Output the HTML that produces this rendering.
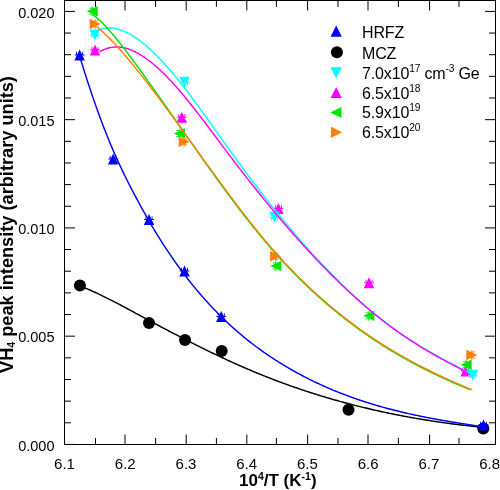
<!DOCTYPE html>
<html><head><meta charset="utf-8"><style>
html,body{margin:0;padding:0;background:#fff;}
body{width:500px;height:490px;position:relative;overflow:hidden;font-family:"Liberation Sans",Arial,sans-serif;color:#000;}
.t{position:absolute;font-size:15px;line-height:1;white-space:nowrap;}
.yl{text-align:right;width:40px;left:14.5px;font-size:14.5px!important;}
.xl{text-align:center;width:40px;}
.lg{position:absolute;left:362px;letter-spacing:-0.15px;font-size:16px;line-height:1;white-space:nowrap;}
.lg sup{font-size:10.2px;vertical-align:7.2px;line-height:0}
.ax{position:absolute;font-weight:bold;white-space:nowrap;line-height:1;}
.ax sup{font-size:10.5px;vertical-align:6.3px;line-height:0}
.ax sub{font-size:10.5px;vertical-align:-2px;line-height:0}
</style></head><body>
<svg width="500" height="490" viewBox="0 0 500 490" style="position:absolute;left:0;top:0"><path d="M125.00,445V434.5M125.00,0V10.5M186.20,445V434.5M186.20,0V10.5M246.80,445V434.5M246.80,0V10.5M307.60,445V434.5M307.60,0V10.5M368.00,445V434.5M368.00,0V10.5M429.60,445V434.5M429.60,0V10.5M95.50,445V438M95.50,0V6.8M155.60,445V438M155.60,0V6.8M216.40,445V438M216.40,0V6.8M276.40,445V438M276.40,0V6.8M338.00,445V438M338.00,0V6.8M398.40,445V438M398.40,0V6.8M459.00,445V438M459.00,0V6.8M64,444.43H75M496,444.43H485M64,422.78H71M496,422.78H489M64,401.13H71M496,401.13H489M64,379.48H71M496,379.48H489M64,357.82H71M496,357.82H489M64,336.17H75M496,336.17H485M64,314.52H71M496,314.52H489M64,292.87H71M496,292.87H489M64,271.22H71M496,271.22H489M64,249.57H71M496,249.57H489M64,227.91H75M496,227.91H485M64,206.26H71M496,206.26H489M64,184.61H71M496,184.61H489M64,162.96H71M496,162.96H489M64,141.31H71M496,141.31H489M64,119.66H75M496,119.66H485M64,98.00H71M496,98.00H489M64,76.35H71M496,76.35H489M64,54.70H71M496,54.70H489M64,33.05H71M496,33.05H489M64,11.40H75M496,11.40H485" stroke="#000" stroke-width="1" fill="none"/><rect x="64.5" y="0.5" width="431" height="444" fill="none" stroke="#000" stroke-width="1"/><circle cx="79.9" cy="285.4" r="6" fill="#000000"/><circle cx="149" cy="323" r="6" fill="#000000"/><circle cx="185" cy="340" r="6" fill="#000000"/><circle cx="221.7" cy="351" r="6" fill="#000000"/><circle cx="348.5" cy="409.7" r="6" fill="#000000"/><circle cx="483.3" cy="428.6" r="6" fill="#000000"/><polygon points="74.35,60.50 84.85,60.50 79.60,49.50" fill="#0000ff"/><rect x="74.70" y="54.50" width="9.8" height="1" fill="#0000ff"/><rect x="76.10" y="51.80" width="0.9" height="3.2" fill="#0000ff"/><rect x="82.20" y="51.80" width="0.9" height="3.2" fill="#0000ff"/><polygon points="107.95,164.50 118.45,164.50 113.20,153.50" fill="#0000ff"/><rect x="108.30" y="158.50" width="9.8" height="1" fill="#0000ff"/><rect x="109.70" y="155.80" width="0.9" height="3.2" fill="#0000ff"/><rect x="115.80" y="155.80" width="0.9" height="3.2" fill="#0000ff"/><polygon points="143.75,225.00 154.25,225.00 149.00,214.00" fill="#0000ff"/><rect x="144.10" y="219.00" width="9.8" height="1" fill="#0000ff"/><rect x="145.50" y="216.30" width="0.9" height="3.2" fill="#0000ff"/><rect x="151.60" y="216.30" width="0.9" height="3.2" fill="#0000ff"/><polygon points="179.25,276.50 189.75,276.50 184.50,265.50" fill="#0000ff"/><rect x="179.60" y="270.50" width="9.8" height="1" fill="#0000ff"/><rect x="181.00" y="267.80" width="0.9" height="3.2" fill="#0000ff"/><rect x="187.10" y="267.80" width="0.9" height="3.2" fill="#0000ff"/><polygon points="216.05,322.00 226.55,322.00 221.30,311.00" fill="#0000ff"/><rect x="216.40" y="316.00" width="9.8" height="1" fill="#0000ff"/><rect x="217.80" y="313.30" width="0.9" height="3.2" fill="#0000ff"/><rect x="223.90" y="313.30" width="0.9" height="3.2" fill="#0000ff"/><polygon points="478.25,430.50 488.75,430.50 483.50,419.50" fill="#0000ff"/><rect x="478.60" y="424.50" width="9.8" height="1" fill="#0000ff"/><rect x="480.00" y="421.80" width="0.9" height="3.2" fill="#0000ff"/><rect x="486.10" y="421.80" width="0.9" height="3.2" fill="#0000ff"/><polygon points="89.75,55.50 100.25,55.50 95.00,44.50" fill="#ff00ff"/><rect x="90.10" y="49.50" width="9.8" height="1" fill="#ff00ff"/><rect x="91.50" y="46.80" width="0.9" height="3.2" fill="#ff00ff"/><rect x="97.60" y="46.80" width="0.9" height="3.2" fill="#ff00ff"/><polygon points="176.55,122.70 187.05,122.70 181.80,111.70" fill="#ff00ff"/><rect x="176.90" y="116.70" width="9.8" height="1" fill="#ff00ff"/><rect x="178.30" y="114.00" width="0.9" height="3.2" fill="#ff00ff"/><rect x="184.40" y="114.00" width="0.9" height="3.2" fill="#ff00ff"/><polygon points="273.15,213.90 283.65,213.90 278.40,202.90" fill="#ff00ff"/><rect x="273.50" y="207.90" width="9.8" height="1" fill="#ff00ff"/><rect x="274.90" y="205.20" width="0.9" height="3.2" fill="#ff00ff"/><rect x="281.00" y="205.20" width="0.9" height="3.2" fill="#ff00ff"/><polygon points="363.75,288.30 374.25,288.30 369.00,277.30" fill="#ff00ff"/><rect x="364.10" y="282.30" width="9.8" height="1" fill="#ff00ff"/><rect x="365.50" y="279.60" width="0.9" height="3.2" fill="#ff00ff"/><rect x="371.60" y="279.60" width="0.9" height="3.2" fill="#ff00ff"/><polygon points="460.35,376.50 470.85,376.50 465.60,365.50" fill="#ff00ff"/><rect x="460.70" y="370.50" width="9.8" height="1" fill="#ff00ff"/><rect x="462.10" y="367.80" width="0.9" height="3.2" fill="#ff00ff"/><rect x="468.20" y="367.80" width="0.9" height="3.2" fill="#ff00ff"/><polygon points="89.55,29.40 100.05,29.40 94.80,40.40" fill="#00ffff"/><rect x="89.90" y="34.40" width="9.8" height="1" fill="#00ffff"/><rect x="91.30" y="34.90" width="0.9" height="3.2" fill="#00ffff"/><rect x="97.40" y="34.90" width="0.9" height="3.2" fill="#00ffff"/><polygon points="179.35,76.80 189.85,76.80 184.60,87.80" fill="#00ffff"/><rect x="179.70" y="81.80" width="9.8" height="1" fill="#00ffff"/><rect x="181.10" y="82.30" width="0.9" height="3.2" fill="#00ffff"/><rect x="187.20" y="82.30" width="0.9" height="3.2" fill="#00ffff"/><polygon points="269.15,211.80 279.65,211.80 274.40,222.80" fill="#00ffff"/><rect x="269.50" y="216.80" width="9.8" height="1" fill="#00ffff"/><rect x="270.90" y="217.30" width="0.9" height="3.2" fill="#00ffff"/><rect x="277.00" y="217.30" width="0.9" height="3.2" fill="#00ffff"/><polygon points="467.55,369.70 478.05,369.70 472.80,380.70" fill="#00ffff"/><rect x="467.90" y="374.70" width="9.8" height="1" fill="#00ffff"/><rect x="469.30" y="375.20" width="0.9" height="3.2" fill="#00ffff"/><rect x="475.40" y="375.20" width="0.9" height="3.2" fill="#00ffff"/><polygon points="97.70,5.95 97.70,16.45 86.70,11.20" fill="#00e600"/><rect x="91.70" y="6.30" width="1" height="9.8" fill="#00e600"/><rect x="89.00" y="7.70" width="3.2" height="0.9" fill="#00e600"/><rect x="89.00" y="13.80" width="3.2" height="0.9" fill="#00e600"/><polygon points="184.90,128.25 184.90,138.75 173.90,133.50" fill="#00e600"/><rect x="178.90" y="128.60" width="1" height="9.8" fill="#00e600"/><rect x="176.20" y="130.00" width="3.2" height="0.9" fill="#00e600"/><rect x="176.20" y="136.10" width="3.2" height="0.9" fill="#00e600"/><polygon points="281.30,260.75 281.30,271.25 270.30,266.00" fill="#00e600"/><rect x="275.30" y="261.10" width="1" height="9.8" fill="#00e600"/><rect x="272.60" y="262.50" width="3.2" height="0.9" fill="#00e600"/><rect x="272.60" y="268.60" width="3.2" height="0.9" fill="#00e600"/><polygon points="374.40,310.55 374.40,321.05 363.40,315.80" fill="#00e600"/><rect x="368.40" y="310.90" width="1" height="9.8" fill="#00e600"/><rect x="365.70" y="312.30" width="3.2" height="0.9" fill="#00e600"/><rect x="365.70" y="318.40" width="3.2" height="0.9" fill="#00e600"/><polygon points="471.60,359.45 471.60,369.95 460.60,364.70" fill="#00e600"/><rect x="465.60" y="359.80" width="1" height="9.8" fill="#00e600"/><rect x="462.90" y="361.20" width="3.2" height="0.9" fill="#00e600"/><rect x="462.90" y="367.30" width="3.2" height="0.9" fill="#00e600"/><polygon points="89.70,18.85 89.70,29.35 100.70,24.10" fill="#ff8000"/><rect x="94.70" y="19.20" width="1" height="9.8" fill="#ff8000"/><rect x="95.20" y="20.60" width="3.2" height="0.9" fill="#ff8000"/><rect x="95.20" y="26.70" width="3.2" height="0.9" fill="#ff8000"/><polygon points="178.60,136.45 178.60,146.95 189.60,141.70" fill="#ff8000"/><rect x="183.60" y="136.80" width="1" height="9.8" fill="#ff8000"/><rect x="184.10" y="138.20" width="3.2" height="0.9" fill="#ff8000"/><rect x="184.10" y="144.30" width="3.2" height="0.9" fill="#ff8000"/><polygon points="270.10,250.95 270.10,261.45 281.10,256.20" fill="#ff8000"/><rect x="275.10" y="251.30" width="1" height="9.8" fill="#ff8000"/><rect x="275.60" y="252.70" width="3.2" height="0.9" fill="#ff8000"/><rect x="275.60" y="258.80" width="3.2" height="0.9" fill="#ff8000"/><polygon points="466.30,349.75 466.30,360.25 477.30,355.00" fill="#ff8000"/><rect x="471.30" y="350.10" width="1" height="9.8" fill="#ff8000"/><rect x="471.80" y="351.50" width="3.2" height="0.9" fill="#ff8000"/><rect x="471.80" y="357.60" width="3.2" height="0.9" fill="#ff8000"/><path d="M79.90,285.86 L80.90,286.25 L81.90,286.66 L82.90,287.06 L83.90,287.47 L84.90,287.89 L85.90,288.31 L86.90,288.73 L87.90,289.16 L88.90,289.59 L89.90,290.03 L90.90,290.47 L91.90,290.92 L92.90,291.37 L93.90,291.82 L94.90,292.28 L95.90,292.74 L96.90,293.21 L97.90,293.68 L98.90,294.15 L99.90,294.62 L100.90,295.10 L101.90,295.59 L102.90,296.07 L103.90,296.56 L104.90,297.05 L105.90,297.55 L106.90,298.05 L107.90,298.55 L108.90,299.05 L109.90,299.55 L110.90,300.06 L111.90,300.57 L112.90,301.09 L113.90,301.60 L114.90,302.12 L115.90,302.64 L116.90,303.16 L117.90,303.68 L118.90,304.21 L119.90,304.73 L120.90,305.26 L121.90,305.79 L122.90,306.32 L123.90,306.85 L124.90,307.39 L125.90,307.92 L126.90,308.46 L127.90,309.00 L128.90,309.53 L129.90,310.07 L130.90,310.61 L131.90,311.15 L132.90,311.69 L133.90,312.23 L134.90,312.77 L135.90,313.32 L136.90,313.86 L137.90,314.40 L138.90,314.94 L139.90,315.48 L140.90,316.03 L141.90,316.57 L142.90,317.11 L143.90,317.65 L144.90,318.19 L145.90,318.73 L146.90,319.27 L147.90,319.81 L148.90,320.35 L149.90,320.89 L150.90,321.42 L151.90,321.96 L152.90,322.50 L153.90,323.03 L154.90,323.57 L155.90,324.11 L156.90,324.64 L157.90,325.17 L158.90,325.71 L159.90,326.24 L160.90,326.77 L161.90,327.30 L162.90,327.83 L163.90,328.36 L164.90,328.89 L165.90,329.42 L166.90,329.95 L167.90,330.48 L168.90,331.00 L169.90,331.53 L170.90,332.05 L171.90,332.58 L172.90,333.10 L173.90,333.62 L174.90,334.15 L175.90,334.67 L176.90,335.19 L177.90,335.71 L178.90,336.23 L179.90,336.74 L180.90,337.26 L181.90,337.78 L182.90,338.29 L183.90,338.80 L184.90,339.32 L185.90,339.83 L186.90,340.34 L187.90,340.85 L188.90,341.36 L189.90,341.87 L190.90,342.38 L191.90,342.88 L192.90,343.39 L193.90,343.89 L194.90,344.39 L195.90,344.90 L196.90,345.40 L197.90,345.90 L198.90,346.39 L199.90,346.89 L200.90,347.39 L201.90,347.88 L202.90,348.38 L203.90,348.87 L204.90,349.36 L205.90,349.85 L206.90,350.34 L207.90,350.83 L208.90,351.32 L209.90,351.80 L210.90,352.29 L211.90,352.77 L212.90,353.25 L213.90,353.73 L214.90,354.21 L215.90,354.69 L216.90,355.16 L217.90,355.64 L218.90,356.11 L219.90,356.58 L220.90,357.06 L221.90,357.52 L222.90,357.99 L223.90,358.46 L224.90,358.92 L225.90,359.39 L226.90,359.85 L227.90,360.31 L228.90,360.77 L229.90,361.23 L230.90,361.68 L231.90,362.14 L232.90,362.59 L233.90,363.04 L234.90,363.49 L235.90,363.94 L236.90,364.39 L237.90,364.83 L238.90,365.28 L239.90,365.72 L240.90,366.16 L241.90,366.60 L242.90,367.03 L243.90,367.47 L244.90,367.90 L245.90,368.33 L246.90,368.76 L247.90,369.19 L248.90,369.62 L249.90,370.04 L250.90,370.47 L251.90,370.89 L252.90,371.31 L253.90,371.72 L254.90,372.14 L255.90,372.55 L256.90,372.97 L257.90,373.38 L258.90,373.79 L259.90,374.19 L260.90,374.60 L261.90,375.00 L262.90,375.40 L263.90,375.80 L264.90,376.20 L265.90,376.60 L266.90,376.99 L267.90,377.39 L268.90,377.78 L269.90,378.17 L270.90,378.55 L271.90,378.94 L272.90,379.33 L273.90,379.71 L274.90,380.09 L275.90,380.47 L276.90,380.85 L277.90,381.22 L278.90,381.60 L279.90,381.97 L280.90,382.34 L281.90,382.71 L282.90,383.08 L283.90,383.44 L284.90,383.81 L285.90,384.17 L286.90,384.53 L287.90,384.89 L288.90,385.25 L289.90,385.60 L290.90,385.96 L291.90,386.31 L292.90,386.66 L293.90,387.01 L294.90,387.36 L295.90,387.70 L296.90,388.05 L297.90,388.39 L298.90,388.73 L299.90,389.07 L300.90,389.41 L301.90,389.75 L302.90,390.08 L303.90,390.41 L304.90,390.75 L305.90,391.08 L306.90,391.40 L307.90,391.73 L308.90,392.06 L309.90,392.38 L310.90,392.70 L311.90,393.02 L312.90,393.34 L313.90,393.66 L314.90,393.97 L315.90,394.29 L316.90,394.60 L317.90,394.91 L318.90,395.22 L319.90,395.53 L320.90,395.83 L321.90,396.14 L322.90,396.44 L323.90,396.74 L324.90,397.04 L325.90,397.34 L326.90,397.64 L327.90,397.94 L328.90,398.23 L329.90,398.52 L330.90,398.81 L331.90,399.10 L332.90,399.39 L333.90,399.68 L334.90,399.96 L335.90,400.24 L336.90,400.53 L337.90,400.81 L338.90,401.09 L339.90,401.36 L340.90,401.64 L341.90,401.91 L342.90,402.19 L343.90,402.46 L344.90,402.73 L345.90,403.00 L346.90,403.26 L347.90,403.53 L348.90,403.79 L349.90,404.06 L350.90,404.32 L351.90,404.58 L352.90,404.83 L353.90,405.09 L354.90,405.35 L355.90,405.60 L356.90,405.85 L357.90,406.11 L358.90,406.35 L359.90,406.60 L360.90,406.85 L361.90,407.10 L362.90,407.34 L363.90,407.58 L364.90,407.82 L365.90,408.06 L366.90,408.30 L367.90,408.54 L368.90,408.77 L369.90,409.01 L370.90,409.24 L371.90,409.47 L372.90,409.70 L373.90,409.93 L374.90,410.16 L375.90,410.38 L376.90,410.61 L377.90,410.83 L378.90,411.05 L379.90,411.27 L380.90,411.49 L381.90,411.71 L382.90,411.93 L383.90,412.14 L384.90,412.36 L385.90,412.57 L386.90,412.78 L387.90,412.99 L388.90,413.20 L389.90,413.41 L390.90,413.61 L391.90,413.82 L392.90,414.02 L393.90,414.22 L394.90,414.42 L395.90,414.62 L396.90,414.82 L397.90,415.02 L398.90,415.21 L399.90,415.40 L400.90,415.60 L401.90,415.79 L402.90,415.98 L403.90,416.17 L404.90,416.36 L405.90,416.54 L406.90,416.73 L407.90,416.91 L408.90,417.09 L409.90,417.27 L410.90,417.45 L411.90,417.63 L412.90,417.81 L413.90,417.99 L414.90,418.16 L415.90,418.34 L416.90,418.51 L417.90,418.68 L418.90,418.85 L419.90,419.02 L420.90,419.19 L421.90,419.35 L422.90,419.52 L423.90,419.68 L424.90,419.84 L425.90,420.01 L426.90,420.17 L427.90,420.33 L428.90,420.48 L429.90,420.64 L430.90,420.80 L431.90,420.95 L432.90,421.10 L433.90,421.26 L434.90,421.41 L435.90,421.56 L436.90,421.71 L437.90,421.85 L438.90,422.00 L439.90,422.14 L440.90,422.29 L441.90,422.43 L442.90,422.57 L443.90,422.71 L444.90,422.85 L445.90,422.99 L446.90,423.13 L447.90,423.26 L448.90,423.40 L449.90,423.53 L450.90,423.66 L451.90,423.80 L452.90,423.93 L453.90,424.05 L454.90,424.18 L455.90,424.31 L456.90,424.44 L457.90,424.56 L458.90,424.68 L459.90,424.81 L460.90,424.93 L461.90,425.05 L462.90,425.17 L463.90,425.29 L464.90,425.40 L465.90,425.52 L466.90,425.63 L467.90,425.75 L468.90,425.86 L469.90,425.97 L470.90,426.08 L471.90,426.19 L472.90,426.30 L473.90,426.41 L474.90,426.52 L475.90,426.62 L476.90,426.73 L477.90,426.83 L478.90,426.93 L479.90,427.03 L480.90,427.13 L481.90,427.23 L482.90,427.33 L483.30,427.37" stroke="#000000" stroke-width="1.45" fill="none"/><path d="M79.60,55.96 L80.60,59.25 L81.60,62.51 L82.60,65.74 L83.60,68.94 L84.60,72.12 L85.60,75.26 L86.60,78.38 L87.60,81.47 L88.60,84.53 L89.60,87.56 L90.60,90.56 L91.60,93.53 L92.60,96.47 L93.60,99.39 L94.60,102.28 L95.60,105.13 L96.60,107.96 L97.60,110.76 L98.60,113.53 L99.60,116.27 L100.60,118.98 L101.60,121.65 L102.60,124.30 L103.60,126.92 L104.60,129.51 L105.60,132.07 L106.60,134.60 L107.60,137.10 L108.60,139.56 L109.60,142.00 L110.60,144.41 L111.60,146.78 L112.60,149.12 L113.60,151.44 L114.60,153.73 L115.60,155.99 L116.60,158.22 L117.60,160.42 L118.60,162.61 L119.60,164.76 L120.60,166.90 L121.60,169.01 L122.60,171.10 L123.60,173.17 L124.60,175.22 L125.60,177.25 L126.60,179.26 L127.60,181.25 L128.60,183.23 L129.60,185.19 L130.60,187.14 L131.60,189.07 L132.60,190.99 L133.60,192.89 L134.60,194.79 L135.60,196.67 L136.60,198.55 L137.60,200.41 L138.60,202.27 L139.60,204.12 L140.60,205.95 L141.60,207.78 L142.60,209.60 L143.60,211.40 L144.60,213.19 L145.60,214.97 L146.60,216.74 L147.60,218.50 L148.60,220.24 L149.60,221.96 L150.60,223.68 L151.60,225.38 L152.60,227.07 L153.60,228.75 L154.60,230.41 L155.60,232.06 L156.60,233.70 L157.60,235.33 L158.60,236.94 L159.60,238.54 L160.60,240.13 L161.60,241.71 L162.60,243.28 L163.60,244.83 L164.60,246.37 L165.60,247.90 L166.60,249.42 L167.60,250.93 L168.60,252.42 L169.60,253.90 L170.60,255.37 L171.60,256.83 L172.60,258.28 L173.60,259.72 L174.60,261.15 L175.60,262.56 L176.60,263.97 L177.60,265.36 L178.60,266.74 L179.60,268.12 L180.60,269.48 L181.60,270.83 L182.60,272.17 L183.60,273.50 L184.60,274.82 L185.60,276.13 L186.60,277.42 L187.60,278.71 L188.60,279.99 L189.60,281.26 L190.60,282.52 L191.60,283.77 L192.60,285.01 L193.60,286.23 L194.60,287.45 L195.60,288.66 L196.60,289.86 L197.60,291.05 L198.60,292.24 L199.60,293.41 L200.60,294.57 L201.60,295.73 L202.60,296.87 L203.60,298.01 L204.60,299.13 L205.60,300.25 L206.60,301.36 L207.60,302.46 L208.60,303.55 L209.60,304.64 L210.60,305.71 L211.60,306.78 L212.60,307.84 L213.60,308.89 L214.60,309.93 L215.60,310.96 L216.60,311.99 L217.60,313.01 L218.60,314.02 L219.60,315.02 L220.60,316.01 L221.60,317.00 L222.60,317.98 L223.60,318.95 L224.60,319.91 L225.60,320.86 L226.60,321.81 L227.60,322.75 L228.60,323.69 L229.60,324.61 L230.60,325.53 L231.60,326.44 L232.60,327.34 L233.60,328.24 L234.60,329.13 L235.60,330.01 L236.60,330.88 L237.60,331.75 L238.60,332.61 L239.60,333.47 L240.60,334.31 L241.60,335.15 L242.60,335.99 L243.60,336.82 L244.60,337.64 L245.60,338.45 L246.60,339.26 L247.60,340.06 L248.60,340.85 L249.60,341.64 L250.60,342.42 L251.60,343.20 L252.60,343.97 L253.60,344.73 L254.60,345.49 L255.60,346.24 L256.60,346.99 L257.60,347.73 L258.60,348.46 L259.60,349.19 L260.60,349.91 L261.60,350.63 L262.60,351.34 L263.60,352.04 L264.60,352.74 L265.60,353.44 L266.60,354.13 L267.60,354.81 L268.60,355.49 L269.60,356.16 L270.60,356.83 L271.60,357.49 L272.60,358.15 L273.60,358.80 L274.60,359.45 L275.60,360.09 L276.60,360.73 L277.60,361.36 L278.60,361.99 L279.60,362.61 L280.60,363.23 L281.60,363.85 L282.60,364.46 L283.60,365.06 L284.60,365.66 L285.60,366.26 L286.60,366.85 L287.60,367.44 L288.60,368.02 L289.60,368.60 L290.60,369.18 L291.60,369.75 L292.60,370.31 L293.60,370.88 L294.60,371.44 L295.60,371.99 L296.60,372.54 L297.60,373.09 L298.60,373.63 L299.60,374.17 L300.60,374.71 L301.60,375.24 L302.60,375.76 L303.60,376.29 L304.60,376.81 L305.60,377.32 L306.60,377.84 L307.60,378.34 L308.60,378.85 L309.60,379.35 L310.60,379.85 L311.60,380.34 L312.60,380.83 L313.60,381.31 L314.60,381.80 L315.60,382.28 L316.60,382.75 L317.60,383.22 L318.60,383.69 L319.60,384.16 L320.60,384.62 L321.60,385.07 L322.60,385.53 L323.60,385.98 L324.60,386.42 L325.60,386.87 L326.60,387.31 L327.60,387.75 L328.60,388.18 L329.60,388.61 L330.60,389.04 L331.60,389.46 L332.60,389.88 L333.60,390.30 L334.60,390.71 L335.60,391.12 L336.60,391.53 L337.60,391.93 L338.60,392.33 L339.60,392.73 L340.60,393.12 L341.60,393.51 L342.60,393.90 L343.60,394.29 L344.60,394.67 L345.60,395.05 L346.60,395.43 L347.60,395.80 L348.60,396.17 L349.60,396.54 L350.60,396.90 L351.60,397.26 L352.60,397.62 L353.60,397.97 L354.60,398.33 L355.60,398.68 L356.60,399.02 L357.60,399.37 L358.60,399.71 L359.60,400.05 L360.60,400.38 L361.60,400.72 L362.60,401.05 L363.60,401.37 L364.60,401.70 L365.60,402.02 L366.60,402.34 L367.60,402.66 L368.60,402.97 L369.60,403.28 L370.60,403.59 L371.60,403.90 L372.60,404.20 L373.60,404.51 L374.60,404.80 L375.60,405.10 L376.60,405.40 L377.60,405.69 L378.60,405.98 L379.60,406.26 L380.60,406.55 L381.60,406.83 L382.60,407.11 L383.60,407.39 L384.60,407.66 L385.60,407.94 L386.60,408.21 L387.60,408.48 L388.60,408.74 L389.60,409.01 L390.60,409.27 L391.60,409.53 L392.60,409.79 L393.60,410.04 L394.60,410.30 L395.60,410.55 L396.60,410.80 L397.60,411.05 L398.60,411.29 L399.60,411.53 L400.60,411.78 L401.60,412.02 L402.60,412.25 L403.60,412.49 L404.60,412.72 L405.60,412.95 L406.60,413.18 L407.60,413.41 L408.60,413.64 L409.60,413.86 L410.60,414.09 L411.60,414.31 L412.60,414.53 L413.60,414.74 L414.60,414.96 L415.60,415.17 L416.60,415.39 L417.60,415.60 L418.60,415.81 L419.60,416.01 L420.60,416.22 L421.60,416.42 L422.60,416.63 L423.60,416.83 L424.60,417.03 L425.60,417.23 L426.60,417.42 L427.60,417.62 L428.60,417.81 L429.60,418.00 L430.60,418.19 L431.60,418.38 L432.60,418.57 L433.60,418.76 L434.60,418.95 L435.60,419.13 L436.60,419.31 L437.60,419.49 L438.60,419.67 L439.60,419.85 L440.60,420.03 L441.60,420.21 L442.60,420.39 L443.60,420.56 L444.60,420.73 L445.60,420.91 L446.60,421.08 L447.60,421.25 L448.60,421.42 L449.60,421.58 L450.60,421.75 L451.60,421.92 L452.60,422.08 L453.60,422.25 L454.60,422.41 L455.60,422.57 L456.60,422.73 L457.60,422.89 L458.60,423.05 L459.60,423.21 L460.60,423.37 L461.60,423.53 L462.60,423.68 L463.60,423.84 L464.60,424.00 L465.60,424.15 L466.60,424.30 L467.60,424.46 L468.60,424.61 L469.60,424.76 L470.60,424.91 L471.60,425.06 L472.60,425.21 L473.60,425.36 L474.60,425.51 L475.60,425.66 L476.60,425.80 L477.60,425.95 L478.60,426.10 L479.60,426.24 L480.60,426.39 L481.60,426.54 L482.60,426.68 L483.50,426.81" stroke="#0000ff" stroke-width="1.45" fill="none"/><path d="M98.50,30.17 L99.50,29.77 L100.50,29.40 L101.50,29.08 L102.50,28.80 L103.50,28.56 L104.50,28.36 L105.50,28.20 L106.50,28.08 L107.50,28.00 L108.50,27.95 L109.50,27.94 L110.50,27.96 L111.50,28.02 L112.50,28.11 L113.50,28.23 L114.50,28.38 L115.50,28.57 L116.50,28.79 L117.50,29.04 L118.50,29.31 L119.50,29.62 L120.50,29.95 L121.50,30.31 L122.50,30.69 L123.50,31.10 L124.50,31.54 L125.50,31.99 L126.50,32.47 L127.50,32.98 L128.50,33.50 L129.50,34.05 L130.50,34.61 L131.50,35.19 L132.50,35.80 L133.50,36.42 L134.50,37.06 L135.50,37.72 L136.50,38.40 L137.50,39.09 L138.50,39.80 L139.50,40.53 L140.50,41.28 L141.50,42.05 L142.50,42.83 L143.50,43.63 L144.50,44.44 L145.50,45.27 L146.50,46.12 L147.50,46.98 L148.50,47.86 L149.50,48.76 L150.50,49.66 L151.50,50.59 L152.50,51.53 L153.50,52.48 L154.50,53.45 L155.50,54.43 L156.50,55.42 L157.50,56.43 L158.50,57.45 L159.50,58.48 L160.50,59.53 L161.50,60.59 L162.50,61.66 L163.50,62.75 L164.50,63.84 L165.50,64.95 L166.50,66.07 L167.50,67.20 L168.50,68.34 L169.50,69.50 L170.50,70.66 L171.50,71.83 L172.50,73.02 L173.50,74.21 L174.50,75.42 L175.50,76.63 L176.50,77.85 L177.50,79.08 L178.50,80.32 L179.50,81.57 L180.50,82.83 L181.50,84.09 L182.50,85.37 L183.50,86.65 L184.50,87.94 L185.50,89.23 L186.50,90.53 L187.50,91.84 L188.50,93.16 L189.50,94.48 L190.50,95.81 L191.50,97.14 L192.50,98.48 L193.50,99.83 L194.50,101.18 L195.50,102.54 L196.50,103.90 L197.50,105.26 L198.50,106.63 L199.50,108.00 L200.50,109.38 L201.50,110.76 L202.50,112.15 L203.50,113.53 L204.50,114.92 L205.50,116.32 L206.50,117.71 L207.50,119.11 L208.50,120.51 L209.50,121.91 L210.50,123.32 L211.50,124.72 L212.50,126.13 L213.50,127.54 L214.50,128.95 L215.50,130.36 L216.50,131.76 L217.50,133.17 L218.50,134.58 L219.50,135.99 L220.50,137.40 L221.50,138.81 L222.50,140.21 L223.50,141.62 L224.50,143.02 L225.50,144.42 L226.50,145.82 L227.50,147.22 L228.50,148.62 L229.50,150.01 L230.50,151.40 L231.50,152.79 L232.50,154.17 L233.50,155.55 L234.50,156.93 L235.50,158.30 L236.50,159.67 L237.50,161.04 L238.50,162.41 L239.50,163.77 L240.50,165.13 L241.50,166.49 L242.50,167.84 L243.50,169.19 L244.50,170.54 L245.50,171.88 L246.50,173.22 L247.50,174.56 L248.50,175.89 L249.50,177.22 L250.50,178.55 L251.50,179.87 L252.50,181.19 L253.50,182.51 L254.50,183.82 L255.50,185.13 L256.50,186.44 L257.50,187.75 L258.50,189.05 L259.50,190.34 L260.50,191.64 L261.50,192.93 L262.50,194.22 L263.50,195.50 L264.50,196.78 L265.50,198.06 L266.50,199.33 L267.50,200.60 L268.50,201.87 L269.50,203.13 L270.50,204.39 L271.50,205.65 L272.50,206.90 L273.50,208.15 L274.50,209.39 L275.50,210.63 L276.50,211.87 L277.50,213.11 L278.50,214.34 L279.50,215.56 L280.50,216.79 L281.50,218.01 L282.50,219.22 L283.50,220.44 L284.50,221.65 L285.50,222.85 L286.50,224.05 L287.50,225.25 L288.50,226.44 L289.50,227.63 L290.50,228.82 L291.50,230.00 L292.50,231.18 L293.50,232.36 L294.50,233.53 L295.50,234.70 L296.50,235.86 L297.50,237.02 L298.50,238.18 L299.50,239.33 L300.50,240.48 L301.50,241.62 L302.50,242.76 L303.50,243.90 L304.50,245.03 L305.50,246.16 L306.50,247.28 L307.50,248.40 L308.50,249.52 L309.50,250.63 L310.50,251.74 L311.50,252.84 L312.50,253.94 L313.50,255.04 L314.50,256.13 L315.50,257.22 L316.50,258.30 L317.50,259.38 L318.50,260.46 L319.50,261.53 L320.50,262.60 L321.50,263.66 L322.50,264.72 L323.50,265.77 L324.50,266.82 L325.50,267.87 L326.50,268.91 L327.50,269.95 L328.50,270.98 L329.50,272.01 L330.50,273.04 L331.50,274.06 L332.50,275.08 L333.50,276.09 L334.50,277.10 L335.50,278.10 L336.50,279.10 L337.50,280.09 L338.50,281.08 L339.50,282.07 L340.50,283.05 L341.50,284.03 L342.50,285.00 L343.50,285.97 L344.50,286.93 L345.50,287.89 L346.50,288.84 L347.50,289.79 L348.50,290.74 L349.50,291.68 L350.50,292.62 L351.50,293.55 L352.50,294.48 L353.50,295.40 L354.50,296.32 L355.50,297.23 L356.50,298.14 L357.50,299.05 L358.50,299.94 L359.50,300.84 L360.50,301.73 L361.50,302.62 L362.50,303.50 L363.50,304.37 L364.50,305.24 L365.50,306.11 L366.50,306.97 L367.50,307.83 L368.50,308.68 L369.50,309.53 L370.50,310.37 L371.50,311.21 L372.50,312.04 L373.50,312.87 L374.50,313.70 L375.50,314.52 L376.50,315.33 L377.50,316.14 L378.50,316.94 L379.50,317.74 L380.50,318.53 L381.50,319.32 L382.50,320.11 L383.50,320.89 L384.50,321.66 L385.50,322.43 L386.50,323.19 L387.50,323.95 L388.50,324.71 L389.50,325.46 L390.50,326.20 L391.50,326.94 L392.50,327.67 L393.50,328.40 L394.50,329.13 L395.50,329.84 L396.50,330.56 L397.50,331.27 L398.50,331.97 L399.50,332.67 L400.50,333.36 L401.50,334.05 L402.50,334.73 L403.50,335.41 L404.50,336.09 L405.50,336.76 L406.50,337.42 L407.50,338.08 L408.50,338.74 L409.50,339.39 L410.50,340.04 L411.50,340.68 L412.50,341.32 L413.50,341.96 L414.50,342.59 L415.50,343.21 L416.50,343.84 L417.50,344.46 L418.50,345.07 L419.50,345.68 L420.50,346.29 L421.50,346.90 L422.50,347.50 L423.50,348.09 L424.50,348.69 L425.50,349.28 L426.50,349.87 L427.50,350.45 L428.50,351.03 L429.50,351.61 L430.50,352.18 L431.50,352.76 L432.50,353.33 L433.50,353.89 L434.50,354.45 L435.50,355.02 L436.50,355.57 L437.50,356.13 L438.50,356.68 L439.50,357.23 L440.50,357.78 L441.50,358.32 L442.50,358.87 L443.50,359.41 L444.50,359.95 L445.50,360.48 L446.50,361.02 L447.50,361.55 L448.50,362.08 L449.50,362.61 L450.50,363.13 L451.50,363.66 L452.50,364.18 L453.50,364.70 L454.50,365.22 L455.50,365.74 L456.50,366.26 L457.50,366.78 L458.50,367.29 L459.50,367.80 L460.50,368.32 L461.50,368.83 L462.50,369.34 L463.50,369.84 L464.50,370.35 L465.50,370.86 L466.50,371.37 L467.50,371.87 L468.50,372.38 L469.50,372.88 L470.50,373.38 L471.50,373.89 L472.50,374.39" stroke="#00ffff" stroke-width="1.45" fill="none"/><path d="M99.50,51.82 L100.50,51.25 L101.50,50.71 L102.50,50.22 L103.50,49.76 L104.50,49.34 L105.50,48.95 L106.50,48.60 L107.50,48.28 L108.50,48.00 L109.50,47.76 L110.50,47.55 L111.50,47.37 L112.50,47.23 L113.50,47.11 L114.50,47.03 L115.50,46.99 L116.50,46.97 L117.50,46.99 L118.50,47.03 L119.50,47.11 L120.50,47.21 L121.50,47.34 L122.50,47.51 L123.50,47.70 L124.50,47.92 L125.50,48.16 L126.50,48.43 L127.50,48.73 L128.50,49.06 L129.50,49.41 L130.50,49.78 L131.50,50.18 L132.50,50.60 L133.50,51.05 L134.50,51.52 L135.50,52.01 L136.50,52.52 L137.50,53.06 L138.50,53.62 L139.50,54.19 L140.50,54.79 L141.50,55.41 L142.50,56.05 L143.50,56.70 L144.50,57.38 L145.50,58.07 L146.50,58.78 L147.50,59.51 L148.50,60.26 L149.50,61.02 L150.50,61.80 L151.50,62.60 L152.50,63.41 L153.50,64.24 L154.50,65.08 L155.50,65.94 L156.50,66.82 L157.50,67.71 L158.50,68.61 L159.50,69.53 L160.50,70.47 L161.50,71.42 L162.50,72.38 L163.50,73.35 L164.50,74.34 L165.50,75.35 L166.50,76.36 L167.50,77.39 L168.50,78.43 L169.50,79.48 L170.50,80.55 L171.50,81.62 L172.50,82.71 L173.50,83.81 L174.50,84.92 L175.50,86.04 L176.50,87.17 L177.50,88.31 L178.50,89.46 L179.50,90.62 L180.50,91.78 L181.50,92.96 L182.50,94.15 L183.50,95.34 L184.50,96.55 L185.50,97.76 L186.50,98.98 L187.50,100.21 L188.50,101.44 L189.50,102.68 L190.50,103.93 L191.50,105.19 L192.50,106.45 L193.50,107.71 L194.50,108.99 L195.50,110.27 L196.50,111.55 L197.50,112.84 L198.50,114.13 L199.50,115.43 L200.50,116.74 L201.50,118.04 L202.50,119.35 L203.50,120.67 L204.50,121.99 L205.50,123.31 L206.50,124.63 L207.50,125.96 L208.50,127.29 L209.50,128.62 L210.50,129.95 L211.50,131.28 L212.50,132.62 L213.50,133.96 L214.50,135.29 L215.50,136.63 L216.50,137.97 L217.50,139.31 L218.50,140.65 L219.50,141.98 L220.50,143.32 L221.50,144.66 L222.50,145.99 L223.50,147.33 L224.50,148.66 L225.50,149.99 L226.50,151.32 L227.50,152.64 L228.50,153.97 L229.50,155.29 L230.50,156.61 L231.50,157.92 L232.50,159.23 L233.50,160.55 L234.50,161.86 L235.50,163.16 L236.50,164.47 L237.50,165.77 L238.50,167.07 L239.50,168.36 L240.50,169.66 L241.50,170.95 L242.50,172.24 L243.50,173.52 L244.50,174.81 L245.50,176.09 L246.50,177.37 L247.50,178.64 L248.50,179.91 L249.50,181.19 L250.50,182.45 L251.50,183.72 L252.50,184.98 L253.50,186.24 L254.50,187.50 L255.50,188.75 L256.50,190.00 L257.50,191.25 L258.50,192.50 L259.50,193.74 L260.50,194.98 L261.50,196.22 L262.50,197.45 L263.50,198.68 L264.50,199.91 L265.50,201.14 L266.50,202.36 L267.50,203.58 L268.50,204.80 L269.50,206.01 L270.50,207.22 L271.50,208.43 L272.50,209.64 L273.50,210.84 L274.50,212.04 L275.50,213.23 L276.50,214.43 L277.50,215.62 L278.50,216.80 L279.50,217.99 L280.50,219.17 L281.50,220.35 L282.50,221.52 L283.50,222.69 L284.50,223.86 L285.50,225.02 L286.50,226.18 L287.50,227.34 L288.50,228.50 L289.50,229.65 L290.50,230.80 L291.50,231.94 L292.50,233.08 L293.50,234.22 L294.50,235.36 L295.50,236.49 L296.50,237.62 L297.50,238.74 L298.50,239.87 L299.50,240.98 L300.50,242.10 L301.50,243.21 L302.50,244.32 L303.50,245.42 L304.50,246.52 L305.50,247.62 L306.50,248.71 L307.50,249.80 L308.50,250.89 L309.50,251.97 L310.50,253.05 L311.50,254.13 L312.50,255.20 L313.50,256.27 L314.50,257.34 L315.50,258.40 L316.50,259.46 L317.50,260.51 L318.50,261.56 L319.50,262.61 L320.50,263.65 L321.50,264.69 L322.50,265.73 L323.50,266.76 L324.50,267.79 L325.50,268.81 L326.50,269.83 L327.50,270.85 L328.50,271.86 L329.50,272.87 L330.50,273.87 L331.50,274.87 L332.50,275.87 L333.50,276.86 L334.50,277.85 L335.50,278.84 L336.50,279.82 L337.50,280.80 L338.50,281.77 L339.50,282.74 L340.50,283.71 L341.50,284.67 L342.50,285.62 L343.50,286.58 L344.50,287.53 L345.50,288.47 L346.50,289.41 L347.50,290.35 L348.50,291.28 L349.50,292.21 L350.50,293.13 L351.50,294.05 L352.50,294.97 L353.50,295.88 L354.50,296.79 L355.50,297.69 L356.50,298.59 L357.50,299.48 L358.50,300.37 L359.50,301.26 L360.50,302.14 L361.50,303.02 L362.50,303.89 L363.50,304.76 L364.50,305.62 L365.50,306.48 L366.50,307.34 L367.50,308.19 L368.50,309.04 L369.50,309.88 L370.50,310.72 L371.50,311.55 L372.50,312.38 L373.50,313.20 L374.50,314.02 L375.50,314.83 L376.50,315.64 L377.50,316.45 L378.50,317.25 L379.50,318.05 L380.50,318.84 L381.50,319.63 L382.50,320.41 L383.50,321.19 L384.50,321.96 L385.50,322.73 L386.50,323.49 L387.50,324.25 L388.50,325.00 L389.50,325.75 L390.50,326.50 L391.50,327.24 L392.50,327.97 L393.50,328.70 L394.50,329.43 L395.50,330.15 L396.50,330.86 L397.50,331.58 L398.50,332.28 L399.50,332.98 L400.50,333.68 L401.50,334.37 L402.50,335.06 L403.50,335.74 L404.50,336.42 L405.50,337.09 L406.50,337.76 L407.50,338.43 L408.50,339.09 L409.50,339.74 L410.50,340.40 L411.50,341.05 L412.50,341.69 L413.50,342.33 L414.50,342.97 L415.50,343.60 L416.50,344.23 L417.50,344.85 L418.50,345.47 L419.50,346.09 L420.50,346.70 L421.50,347.31 L422.50,347.92 L423.50,348.52 L424.50,349.12 L425.50,349.72 L426.50,350.31 L427.50,350.90 L428.50,351.48 L429.50,352.07 L430.50,352.65 L431.50,353.22 L432.50,353.79 L433.50,354.37 L434.50,354.93 L435.50,355.50 L436.50,356.06 L437.50,356.62 L438.50,357.17 L439.50,357.73 L440.50,358.28 L441.50,358.82 L442.50,359.37 L443.50,359.91 L444.50,360.45 L445.50,360.99 L446.50,361.53 L447.50,362.06 L448.50,362.59 L449.50,363.12 L450.50,363.64 L451.50,364.17 L452.50,364.69 L453.50,365.21 L454.50,365.73 L455.50,366.25 L456.50,366.76 L457.50,367.27 L458.50,367.78 L459.50,368.29 L460.50,368.80 L461.50,369.31 L462.50,369.81 L463.50,370.32 L464.50,370.82 L465.50,371.32 L466.00,371.57" stroke="#ff00ff" stroke-width="1.45" fill="none"/><path d="M93.00,14.60 L94.00,15.41 L95.00,16.25 L96.00,17.10 L97.00,17.98 L98.00,18.89 L99.00,19.81 L100.00,20.76 L101.00,21.72 L102.00,22.70 L103.00,23.71 L104.00,24.73 L105.00,25.77 L106.00,26.83 L107.00,27.91 L108.00,29.00 L109.00,30.11 L110.00,31.24 L111.00,32.38 L112.00,33.54 L113.00,34.71 L114.00,35.89 L115.00,37.09 L116.00,38.30 L117.00,39.53 L118.00,40.76 L119.00,42.01 L120.00,43.27 L121.00,44.54 L122.00,45.81 L123.00,47.10 L124.00,48.40 L125.00,49.70 L126.00,51.02 L127.00,52.34 L128.00,53.66 L129.00,55.00 L130.00,56.34 L131.00,57.68 L132.00,59.03 L133.00,60.39 L134.00,61.75 L135.00,63.11 L136.00,64.47 L137.00,65.84 L138.00,67.21 L139.00,68.59 L140.00,69.96 L141.00,71.34 L142.00,72.73 L143.00,74.11 L144.00,75.50 L145.00,76.89 L146.00,78.28 L147.00,79.68 L148.00,81.07 L149.00,82.47 L150.00,83.88 L151.00,85.28 L152.00,86.68 L153.00,88.09 L154.00,89.50 L155.00,90.91 L156.00,92.32 L157.00,93.74 L158.00,95.16 L159.00,96.57 L160.00,97.99 L161.00,99.41 L162.00,100.83 L163.00,102.26 L164.00,103.68 L165.00,105.11 L166.00,106.53 L167.00,107.96 L168.00,109.39 L169.00,110.82 L170.00,112.25 L171.00,113.68 L172.00,115.11 L173.00,116.54 L174.00,117.97 L175.00,119.40 L176.00,120.84 L177.00,122.27 L178.00,123.70 L179.00,125.14 L180.00,126.57 L181.00,128.00 L182.00,129.43 L183.00,130.87 L184.00,132.30 L185.00,133.73 L186.00,135.17 L187.00,136.60 L188.00,138.03 L189.00,139.46 L190.00,140.89 L191.00,142.32 L192.00,143.75 L193.00,145.17 L194.00,146.60 L195.00,148.03 L196.00,149.45 L197.00,150.88 L198.00,152.30 L199.00,153.72 L200.00,155.14 L201.00,156.56 L202.00,157.98 L203.00,159.39 L204.00,160.80 L205.00,162.22 L206.00,163.63 L207.00,165.04 L208.00,166.44 L209.00,167.85 L210.00,169.25 L211.00,170.65 L212.00,172.05 L213.00,173.45 L214.00,174.84 L215.00,176.23 L216.00,177.62 L217.00,179.01 L218.00,180.39 L219.00,181.77 L220.00,183.15 L221.00,184.53 L222.00,185.90 L223.00,187.27 L224.00,188.64 L225.00,190.00 L226.00,191.36 L227.00,192.72 L228.00,194.08 L229.00,195.43 L230.00,196.78 L231.00,198.12 L232.00,199.46 L233.00,200.80 L234.00,202.13 L235.00,203.46 L236.00,204.79 L237.00,206.11 L238.00,207.43 L239.00,208.74 L240.00,210.05 L241.00,211.36 L242.00,212.66 L243.00,213.96 L244.00,215.25 L245.00,216.54 L246.00,217.82 L247.00,219.10 L248.00,220.37 L249.00,221.64 L250.00,222.91 L251.00,224.17 L252.00,225.43 L253.00,226.68 L254.00,227.92 L255.00,229.16 L256.00,230.40 L257.00,231.63 L258.00,232.85 L259.00,234.07 L260.00,235.28 L261.00,236.49 L262.00,237.69 L263.00,238.89 L264.00,240.08 L265.00,241.27 L266.00,242.45 L267.00,243.62 L268.00,244.79 L269.00,245.95 L270.00,247.10 L271.00,248.25 L272.00,249.40 L273.00,250.54 L274.00,251.67 L275.00,252.80 L276.00,253.92 L277.00,255.04 L278.00,256.15 L279.00,257.25 L280.00,258.35 L281.00,259.45 L282.00,260.53 L283.00,261.62 L284.00,262.69 L285.00,263.77 L286.00,264.83 L287.00,265.89 L288.00,266.95 L289.00,268.00 L290.00,269.04 L291.00,270.08 L292.00,271.12 L293.00,272.15 L294.00,273.17 L295.00,274.19 L296.00,275.20 L297.00,276.21 L298.00,277.21 L299.00,278.21 L300.00,279.20 L301.00,280.19 L302.00,281.17 L303.00,282.15 L304.00,283.12 L305.00,284.09 L306.00,285.05 L307.00,286.01 L308.00,286.96 L309.00,287.91 L310.00,288.85 L311.00,289.78 L312.00,290.72 L313.00,291.64 L314.00,292.57 L315.00,293.48 L316.00,294.40 L317.00,295.30 L318.00,296.21 L319.00,297.11 L320.00,298.00 L321.00,298.89 L322.00,299.77 L323.00,300.65 L324.00,301.53 L325.00,302.40 L326.00,303.26 L327.00,304.12 L328.00,304.98 L329.00,305.83 L330.00,306.68 L331.00,307.52 L332.00,308.36 L333.00,309.19 L334.00,310.02 L335.00,310.84 L336.00,311.66 L337.00,312.48 L338.00,313.29 L339.00,314.10 L340.00,314.90 L341.00,315.70 L342.00,316.49 L343.00,317.28 L344.00,318.07 L345.00,318.85 L346.00,319.62 L347.00,320.40 L348.00,321.16 L349.00,321.93 L350.00,322.69 L351.00,323.44 L352.00,324.20 L353.00,324.94 L354.00,325.69 L355.00,326.43 L356.00,327.16 L357.00,327.89 L358.00,328.62 L359.00,329.34 L360.00,330.06 L361.00,330.78 L362.00,331.49 L363.00,332.20 L364.00,332.90 L365.00,333.60 L366.00,334.30 L367.00,334.99 L368.00,335.68 L369.00,336.37 L370.00,337.05 L371.00,337.72 L372.00,338.40 L373.00,339.07 L374.00,339.73 L375.00,340.40 L376.00,341.06 L377.00,341.71 L378.00,342.36 L379.00,343.01 L380.00,343.66 L381.00,344.30 L382.00,344.94 L383.00,345.57 L384.00,346.20 L385.00,346.83 L386.00,347.45 L387.00,348.07 L388.00,348.69 L389.00,349.30 L390.00,349.91 L391.00,350.52 L392.00,351.12 L393.00,351.72 L394.00,352.32 L395.00,352.91 L396.00,353.50 L397.00,354.09 L398.00,354.68 L399.00,355.26 L400.00,355.84 L401.00,356.41 L402.00,356.98 L403.00,357.55 L404.00,358.12 L405.00,358.68 L406.00,359.24 L407.00,359.79 L408.00,360.35 L409.00,360.90 L410.00,361.45 L411.00,361.99 L412.00,362.53 L413.00,363.07 L414.00,363.61 L415.00,364.14 L416.00,364.67 L417.00,365.20 L418.00,365.72 L419.00,366.24 L420.00,366.76 L421.00,367.28 L422.00,367.79 L423.00,368.30 L424.00,368.81 L425.00,369.32 L426.00,369.82 L427.00,370.32 L428.00,370.82 L429.00,371.31 L430.00,371.81 L431.00,372.30 L432.00,372.78 L433.00,373.27 L434.00,373.75 L435.00,374.23 L436.00,374.71 L437.00,375.19 L438.00,375.66 L439.00,376.13 L440.00,376.60 L441.00,377.06 L442.00,377.53 L443.00,377.99 L444.00,378.45 L445.00,378.91 L446.00,379.36 L447.00,379.81 L448.00,380.26 L449.00,380.71 L450.00,381.16 L451.00,381.60 L452.00,382.04 L453.00,382.48 L454.00,382.92 L455.00,383.36 L456.00,383.79 L457.00,384.22 L458.00,384.65 L459.00,385.08 L460.00,385.50 L461.00,385.93 L462.00,386.35 L463.00,386.77 L464.00,387.19 L465.00,387.60 L466.00,388.02 L467.00,388.43 L468.00,388.84 L469.00,389.25 L470.00,389.66" stroke="#00e600" stroke-width="1.45" fill="none"/><path d="M97.00,26.97 L98.00,27.78 L99.00,28.62 L100.00,29.47 L101.00,30.34 L102.00,31.23 L103.00,32.13 L104.00,33.05 L105.00,33.98 L106.00,34.93 L107.00,35.90 L108.00,36.87 L109.00,37.87 L110.00,38.87 L111.00,39.89 L112.00,40.92 L113.00,41.97 L114.00,43.02 L115.00,44.09 L116.00,45.17 L117.00,46.26 L118.00,47.36 L119.00,48.47 L120.00,49.59 L121.00,50.73 L122.00,51.87 L123.00,53.01 L124.00,54.17 L125.00,55.34 L126.00,56.51 L127.00,57.69 L128.00,58.88 L129.00,60.08 L130.00,61.28 L131.00,62.48 L132.00,63.70 L133.00,64.92 L134.00,66.14 L135.00,67.37 L136.00,68.60 L137.00,69.84 L138.00,71.09 L139.00,72.34 L140.00,73.59 L141.00,74.85 L142.00,76.12 L143.00,77.38 L144.00,78.66 L145.00,79.94 L146.00,81.22 L147.00,82.50 L148.00,83.80 L149.00,85.09 L150.00,86.39 L151.00,87.69 L152.00,89.00 L153.00,90.31 L154.00,91.63 L155.00,92.94 L156.00,94.27 L157.00,95.59 L158.00,96.92 L159.00,98.25 L160.00,99.59 L161.00,100.93 L162.00,102.27 L163.00,103.61 L164.00,104.96 L165.00,106.31 L166.00,107.66 L167.00,109.02 L168.00,110.37 L169.00,111.73 L170.00,113.10 L171.00,114.46 L172.00,115.83 L173.00,117.20 L174.00,118.57 L175.00,119.94 L176.00,121.31 L177.00,122.69 L178.00,124.07 L179.00,125.45 L180.00,126.83 L181.00,128.21 L182.00,129.60 L183.00,130.98 L184.00,132.37 L185.00,133.75 L186.00,135.14 L187.00,136.53 L188.00,137.92 L189.00,139.31 L190.00,140.70 L191.00,142.09 L192.00,143.48 L193.00,144.88 L194.00,146.27 L195.00,147.66 L196.00,149.05 L197.00,150.45 L198.00,151.84 L199.00,153.23 L200.00,154.62 L201.00,156.01 L202.00,157.41 L203.00,158.80 L204.00,160.19 L205.00,161.58 L206.00,162.97 L207.00,164.35 L208.00,165.74 L209.00,167.13 L210.00,168.51 L211.00,169.89 L212.00,171.28 L213.00,172.66 L214.00,174.04 L215.00,175.41 L216.00,176.79 L217.00,178.16 L218.00,179.54 L219.00,180.91 L220.00,182.28 L221.00,183.64 L222.00,185.01 L223.00,186.37 L224.00,187.73 L225.00,189.09 L226.00,190.44 L227.00,191.79 L228.00,193.14 L229.00,194.49 L230.00,195.83 L231.00,197.17 L232.00,198.51 L233.00,199.85 L234.00,201.18 L235.00,202.50 L236.00,203.83 L237.00,205.15 L238.00,206.47 L239.00,207.78 L240.00,209.09 L241.00,210.40 L242.00,211.70 L243.00,213.00 L244.00,214.30 L245.00,215.59 L246.00,216.87 L247.00,218.15 L248.00,219.43 L249.00,220.70 L250.00,221.97 L251.00,223.24 L252.00,224.49 L253.00,225.75 L254.00,227.00 L255.00,228.24 L256.00,229.48 L257.00,230.71 L258.00,231.94 L259.00,233.16 L260.00,234.38 L261.00,235.59 L262.00,236.80 L263.00,238.00 L264.00,239.20 L265.00,240.38 L266.00,241.57 L267.00,242.74 L268.00,243.92 L269.00,245.08 L270.00,246.24 L271.00,247.39 L272.00,248.54 L273.00,249.68 L274.00,250.82 L275.00,251.95 L276.00,253.07 L277.00,254.19 L278.00,255.31 L279.00,256.42 L280.00,257.52 L281.00,258.61 L282.00,259.70 L283.00,260.79 L284.00,261.87 L285.00,262.94 L286.00,264.01 L287.00,265.08 L288.00,266.13 L289.00,267.19 L290.00,268.23 L291.00,269.28 L292.00,270.31 L293.00,271.34 L294.00,272.37 L295.00,273.39 L296.00,274.40 L297.00,275.41 L298.00,276.42 L299.00,277.42 L300.00,278.41 L301.00,279.40 L302.00,280.38 L303.00,281.36 L304.00,282.33 L305.00,283.30 L306.00,284.26 L307.00,285.22 L308.00,286.18 L309.00,287.12 L310.00,288.07 L311.00,289.00 L312.00,289.94 L313.00,290.86 L314.00,291.79 L315.00,292.71 L316.00,293.62 L317.00,294.53 L318.00,295.43 L319.00,296.33 L320.00,297.22 L321.00,298.11 L322.00,299.00 L323.00,299.88 L324.00,300.75 L325.00,301.62 L326.00,302.49 L327.00,303.35 L328.00,304.20 L329.00,305.06 L330.00,305.90 L331.00,306.75 L332.00,307.58 L333.00,308.42 L334.00,309.25 L335.00,310.07 L336.00,310.89 L337.00,311.71 L338.00,312.52 L339.00,313.32 L340.00,314.13 L341.00,314.92 L342.00,315.72 L343.00,316.51 L344.00,317.29 L345.00,318.07 L346.00,318.85 L347.00,319.62 L348.00,320.39 L349.00,321.15 L350.00,321.91 L351.00,322.67 L352.00,323.42 L353.00,324.17 L354.00,324.91 L355.00,325.65 L356.00,326.38 L357.00,327.11 L358.00,327.84 L359.00,328.56 L360.00,329.28 L361.00,330.00 L362.00,330.71 L363.00,331.42 L364.00,332.12 L365.00,332.82 L366.00,333.51 L367.00,334.21 L368.00,334.89 L369.00,335.58 L370.00,336.26 L371.00,336.94 L372.00,337.61 L373.00,338.28 L374.00,338.94 L375.00,339.60 L376.00,340.26 L377.00,340.92 L378.00,341.57 L379.00,342.22 L380.00,342.86 L381.00,343.50 L382.00,344.14 L383.00,344.77 L384.00,345.40 L385.00,346.03 L386.00,346.65 L387.00,347.27 L388.00,347.89 L389.00,348.50 L390.00,349.11 L391.00,349.72 L392.00,350.32 L393.00,350.92 L394.00,351.51 L395.00,352.11 L396.00,352.70 L397.00,353.28 L398.00,353.87 L399.00,354.45 L400.00,355.03 L401.00,355.60 L402.00,356.17 L403.00,356.74 L404.00,357.30 L405.00,357.87 L406.00,358.42 L407.00,358.98 L408.00,359.53 L409.00,360.08 L410.00,360.63 L411.00,361.17 L412.00,361.72 L413.00,362.25 L414.00,362.79 L415.00,363.32 L416.00,363.85 L417.00,364.38 L418.00,364.90 L419.00,365.42 L420.00,365.94 L421.00,366.46 L422.00,366.97 L423.00,367.48 L424.00,367.99 L425.00,368.50 L426.00,369.00 L427.00,369.50 L428.00,370.00 L429.00,370.49 L430.00,370.99 L431.00,371.48 L432.00,371.97 L433.00,372.45 L434.00,372.93 L435.00,373.41 L436.00,373.89 L437.00,374.37 L438.00,374.84 L439.00,375.31 L440.00,375.78 L441.00,376.25 L442.00,376.71 L443.00,377.18 L444.00,377.63 L445.00,378.09 L446.00,378.55 L447.00,379.00 L448.00,379.45 L449.00,379.90 L450.00,380.35 L451.00,380.79 L452.00,381.24 L453.00,381.68 L454.00,382.12 L455.00,382.55 L456.00,382.99 L457.00,383.42 L458.00,383.85 L459.00,384.28 L460.00,384.71 L461.00,385.13 L462.00,385.56 L463.00,385.98 L464.00,386.40 L465.00,386.81 L466.00,387.23 L467.00,387.65 L468.00,388.06 L469.00,388.47 L470.00,388.88 L471.00,389.29 L472.00,389.69 L472.30,389.81" stroke="#ff8000" stroke-width="1.45" fill="none"/><polygon points="330.60,36.70 341.80,36.70 336.20,25.50" fill="#0000ff"/><circle cx="336.9" cy="52.2" r="6" fill="#000000"/><polygon points="330.60,67.30 341.80,67.30 336.20,78.50" fill="#00ffff"/><polygon points="330.60,98.10 341.80,98.10 336.20,86.90" fill="#ff00ff"/><polygon points="341.50,106.90 341.50,118.10 330.30,112.50" fill="#00e600"/><polygon points="330.90,126.70 330.90,137.90 342.10,132.30" fill="#ff8000"/></svg>
<div class="t yl" style="top:438.5px">0.000</div>
<div class="t yl" style="top:330.3px">0.005</div>
<div class="t yl" style="top:222.0px">0.010</div>
<div class="t yl" style="top:113.8px">0.015</div>
<div class="t yl" style="top:5.5px">0.020</div>
<div class="t xl" style="left:44.5px;top:455.5px">6.1</div>
<div class="t xl" style="left:105.3px;top:455.5px">6.2</div>
<div class="t xl" style="left:166.0px;top:455.5px">6.3</div>
<div class="t xl" style="left:226.7px;top:455.5px">6.4</div>
<div class="t xl" style="left:287.4px;top:455.5px">6.5</div>
<div class="t xl" style="left:348.2px;top:455.5px">6.6</div>
<div class="t xl" style="left:408.9px;top:455.5px">6.7</div>
<div class="t xl" style="left:469.6px;top:455.5px">6.8</div>
<div class="lg" style="top:24.8px">HRFZ</div>
<div class="lg" style="top:45.8px">MCZ</div>
<div class="lg" style="top:65.6px">7.0x10<sup>17</sup> cm<sup>-3</sup> Ge</div>
<div class="lg" style="top:85.5px">6.5x10<sup>18</sup></div>
<div class="lg" style="top:105.2px">5.9x10<sup>19</sup></div>
<div class="lg" style="top:125.2px">6.5x10<sup>20</sup></div>
<div class="ax" style="font-size:17px;left:239px;top:472px">10<sup>4</sup>/T (K<sup>-1</sup>)</div>
<div class="ax" style="font-size:18.2px;left:0;top:0;transform-origin:0 0;transform:translate(-2px,373px) rotate(-90deg)">VH<sub>4</sub> peak intensity (arbitrary units)</div>
</body></html>
